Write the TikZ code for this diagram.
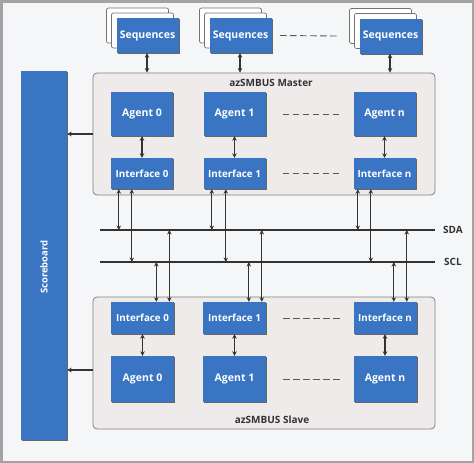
\documentclass[tikz,border=0pt]{standalone}
\usepackage{fontspec}
\setmainfont{Open Sans}
\usetikzlibrary{arrows.meta,shadows}
\definecolor{bgc}{HTML}{F5F6F8}
\definecolor{framec}{HTML}{A3A3A3}
\definecolor{bluec}{HTML}{3A75C4}
\definecolor{groupc}{HTML}{EEEBEA}
\definecolor{groupline}{HTML}{808080}
\definecolor{darkc}{HTML}{333333}
\tikzset{
  bluebox/.style={fill=bluec, draw=none, text=white, font=\bfseries\fontsize{10.5}{12}\selectfont,
    inner sep=0pt, drop shadow={shadow xshift=1.2pt, shadow yshift=-1.2pt, fill=black!60, opacity=1}},
  ifbox/.style={bluebox, font=\bfseries\fontsize{9.8}{11}\selectfont},
  pagebox/.style={fill=white, draw=black!55, line width=0.7pt, rounded corners=2pt, minimum width=62pt, minimum height=35pt, inner sep=0pt},
  groupbox/.style={fill=groupc, draw=groupline, line width=0.8pt, rounded corners=4pt, inner sep=0pt},
  lbl/.style={text=darkc, font=\bfseries\fontsize{10}{12}\selectfont, inner sep=0pt},
  arr/.style={draw=darkc, line width=1.3pt, {Stealth[length=4.5pt,width=4.5pt]}-{Stealth[length=4.5pt,width=4.5pt]}},
  sarr/.style={draw=darkc, line width=1.3pt, -{Stealth[length=4.5pt,width=4.5pt]}},
  busline/.style={draw=darkc, line width=1.4pt},
  dashl/.style={draw=black!65, line width=0.9pt, dash pattern=on 6.5pt off 3.5pt},
}
\begin{document}
\begin{tikzpicture}[x=1pt,y=-1pt]
\path[use as bounding box] (0,0) rectangle (474,463);
\fill[bgc] (0,0) rectangle (474,463);
\draw[framec, line width=2.5pt] (1.25,1.25) rectangle (472.75,461.75);

% scoreboard
\node[bluebox, minimum width=46pt, minimum height=369pt] (sb) at (44,255.5) {};
\node[text=white, font=\bfseries\fontsize{9.5}{11}\selectfont, rotate=90, inner sep=0pt] (sbt) at (44,267) {Scoreboard};

% groups
\node[groupbox, minimum width=342pt, minimum height=122pt] (mas) at (264,134) {};
\node[lbl] (mast) at (271,83) {azSMBUS Master};
\node[groupbox, minimum width=342pt, minimum height=132pt] (sl) at (264,363) {};
\node[lbl] (slt) at (272,420) {azSMBUS Slave};

% sequences
\foreach \n/\x/\y in {0/147.5/35.5, 1/240.5/35.5, n/390.5/36}{
  \node[pagebox] (s\n b) at (\x-10,\y-10) {};
  \node[pagebox] (s\n m) at (\x-5,\y-5) {};
  \node[bluebox, minimum width=62pt, minimum height=35pt] (s\n) at (\x,\y) {Sequences};
}

% master agents & interfaces
\node[bluebox, minimum width=62pt, minimum height=44pt] (ma0) at (142,114) {Agent 0};
\node[bluebox, minimum width=62pt, minimum height=44pt] (ma1) at (234.5,114) {Agent 1};
\node[bluebox, minimum width=62pt, minimum height=44pt] (man) at (384.5,114) {Agent n};
\node[ifbox, minimum width=62pt, minimum height=31pt] (mi0) at (142,173.5) {Interface 0};
\node[ifbox, minimum width=62pt, minimum height=31pt] (mi1) at (234.5,173.5) {Interface 1};
\node[ifbox, minimum width=62pt, minimum height=31pt] (min) at (384.5,173.5) {Interface n};

% slave interfaces & agents
\node[ifbox, minimum width=63pt, minimum height=32pt] (si0) at (142.5,318) {Interface 0};
\node[ifbox, minimum width=63pt, minimum height=32pt] (si1) at (234.5,318) {Interface 1};
\node[ifbox, minimum width=63pt, minimum height=32pt] (sin) at (385,318) {Interface n};
\node[bluebox, minimum width=63pt, minimum height=46pt] (sa0) at (142.5,379) {Agent 0};
\node[bluebox, minimum width=63pt, minimum height=46pt] (sa1) at (234.5,379) {Agent 1};
\node[bluebox, minimum width=63pt, minimum height=46pt] (san) at (385,379) {Agent n};

% dashed separators
\draw[dashl] ([xshift=8.5pt]s1.east) -- ([xshift=-22.5pt]sn.west);
\draw[dashl] ([xshift=17pt]ma1.east) -- ([xshift=-13pt]man.west);
\draw[dashl] ([xshift=17pt]mi1.east) -- ([xshift=-13pt]min.west);
\draw[dashl] ([xshift=17pt]si1.east) -- ([xshift=-13pt]sin.west);
\draw[dashl] ([xshift=17pt]sa1.east) -- ([xshift=-13pt]san.west);

% bus
\coordinate (sdaL) at (100,230);
\coordinate (sdaR) at (435,230);
\coordinate (sclL) at (100,262);
\coordinate (sclR) at (435,262);
\draw[busline] (sdaL) -- (sdaR);
\draw[busline] (sclL) -- (sclR);
\node[lbl] (sdat) at (453,229.5) {SDA};
\node[lbl] (sclt) at (453,262) {SCL};

% sequences to master
\foreach \n in {0,1,n}{
  \draw[arr] ([xshift=-0.5pt]s\n.south) -- ([xshift=-0.5pt]s\n.south |- mas.north);
}
% agent <-> interface
\draw[arr] (ma0.south) -- (mi0.north);
\draw[arr] (ma1.south) -- (mi1.north);
\draw[arr] (man.south) -- (min.north);
\draw[arr] (si0.south) -- (sa0.north);
\draw[arr] (si1.south) -- (sa1.north);
\draw[arr] (sin.south) -- (san.north);

% master interfaces to bus
\foreach \n/\a/\b in {0/8/21, 1/8.5/22.5, n/4.5/17.5}{
  \draw[arr] ([xshift=\a pt]mi\n.south west) -- ([xshift=\a pt]mi\n.south west |- sdaL);
  \draw[arr] ([xshift=\b pt]mi\n.south west) -- ([xshift=\b pt]mi\n.south west |- sclL);
}
% slave interfaces to bus
\foreach \n/\a/\b in {0/45.5/58.5, 1/46/59, n/40.5/53.5}{
  \draw[arr] ([xshift=\a pt]si\n.north west |- sclL) -- ([xshift=\a pt]si\n.north west);
  \draw[arr] ([xshift=\b pt]si\n.north west |- sdaL) -- ([xshift=\b pt]si\n.north west);
}

% to scoreboard
\draw[sarr] (mas.west) -- (mas.west -| sb.east);
\draw[sarr] ([yshift=-7pt]sl.west) -- ([yshift=-7pt]sl.west -| sb.east);
\end{tikzpicture}
\end{document}
